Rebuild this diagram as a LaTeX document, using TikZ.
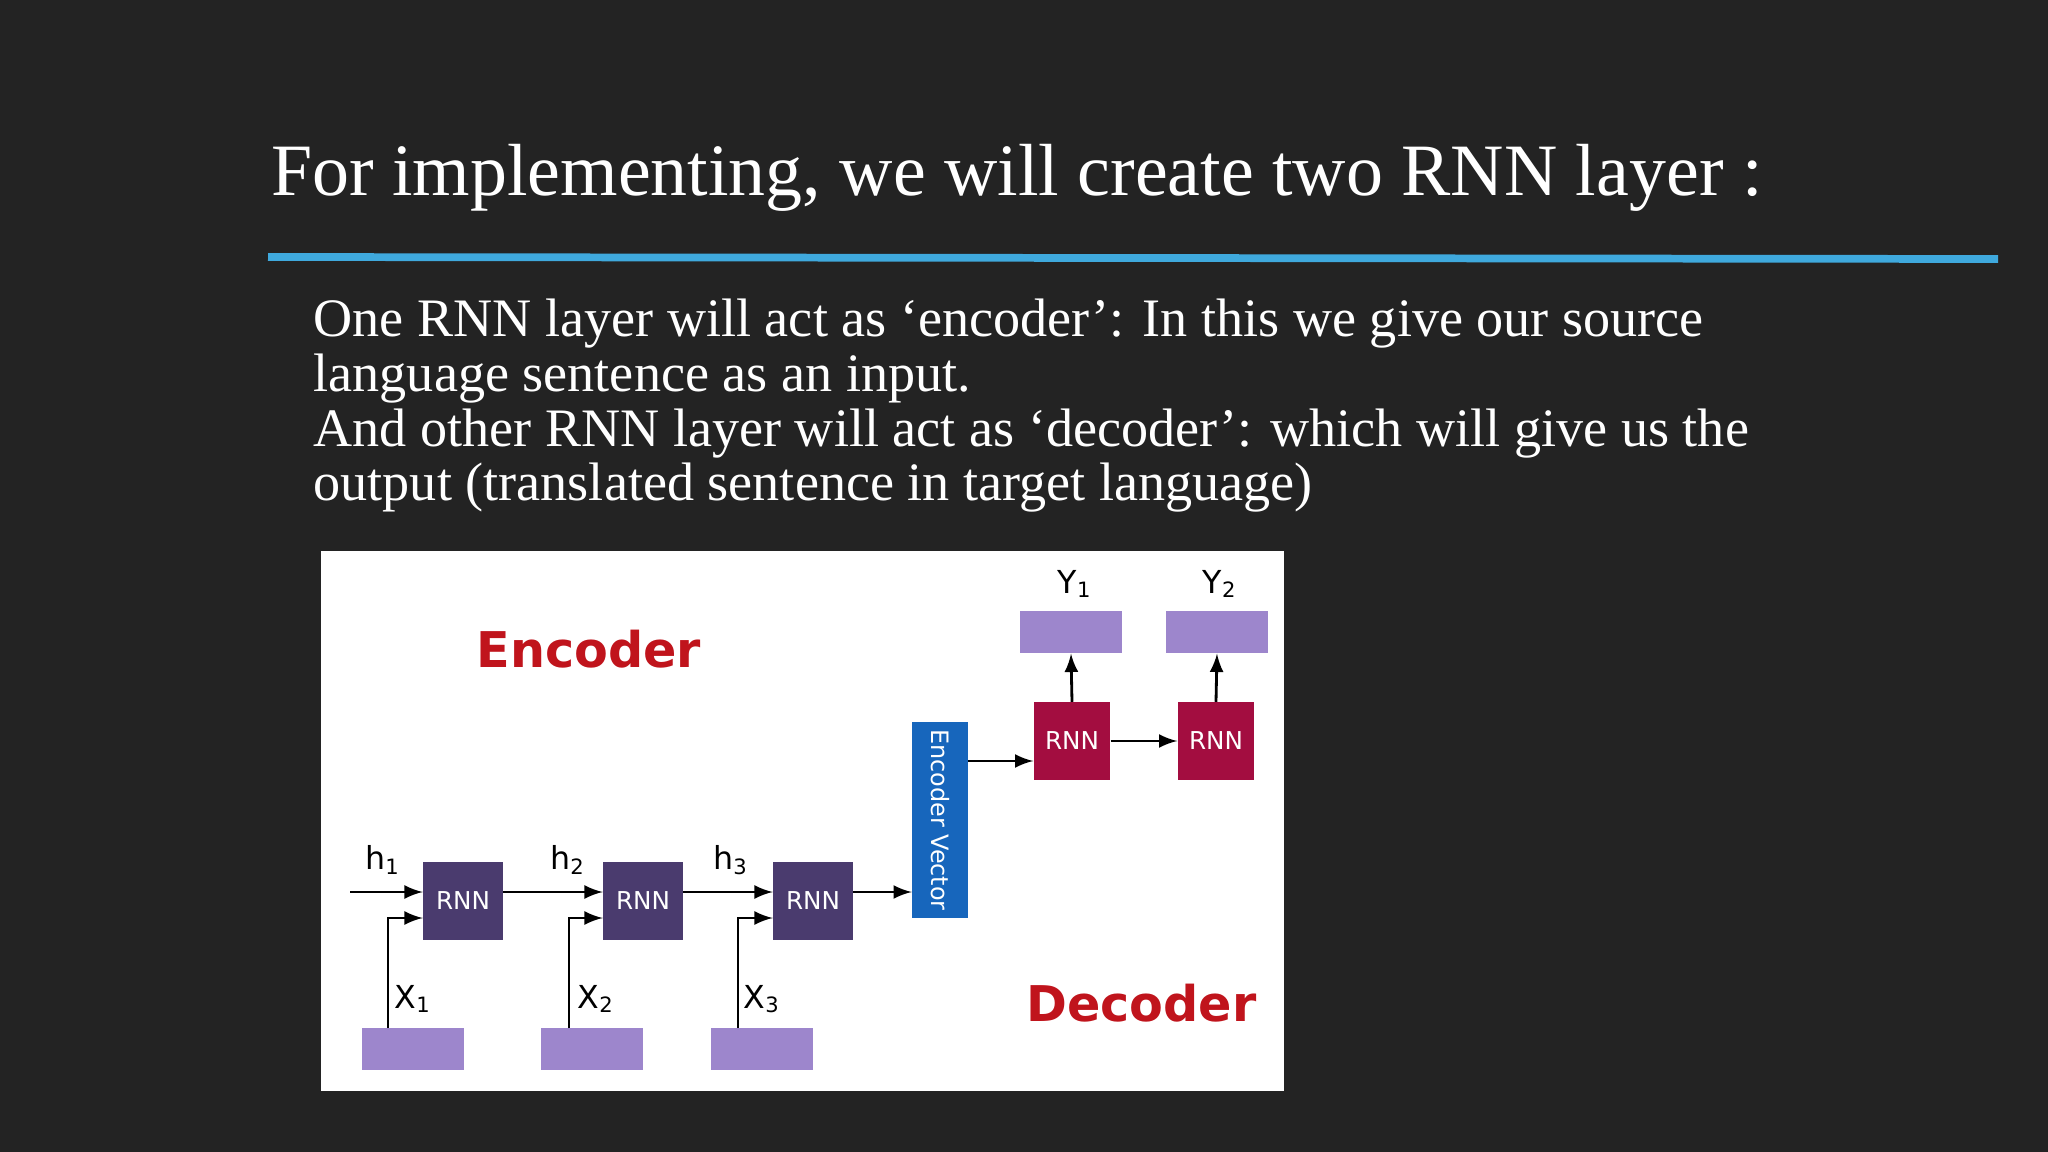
\documentclass[tikz,border=0pt]{standalone}
\usepackage{fontspec}
\setmainfont{Liberation Serif}
\newfontfamily\dejavu{DejaVu Sans}
\definecolor{board}{HTML}{232323}
\definecolor{chalkblue}{HTML}{3FA9DD}
\definecolor{encpurple}{HTML}{4A3B6E}
\definecolor{inpurple}{HTML}{9D86CC}
\definecolor{decred}{HTML}{A30D40}
\definecolor{vecblue}{HTML}{1766BC}
\definecolor{labred}{HTML}{C0141C}

\begin{document}
\begin{tikzpicture}[
    x=0.01cm, y=-0.01cm,
    linet/.style={thick, draw=black, -latex},
    enc/.style={rectangle, fill=encpurple, text=white, inner sep=0pt,
      minimum width=0.79cm, minimum height=0.78cm, font=\dejavu\fontsize{7}{8}\selectfont},
    dec/.style={enc, fill=decred, minimum width=0.76cm, minimum height=0.77cm},
    inp/.style={rectangle, fill=inpurple, inner sep=0pt,
      minimum width=1.01cm, minimum height=0.42cm},
    lab/.style={font=\dejavu\fontsize{9}{10}\selectfont, text=black},
    big/.style={font=\dejavu\bfseries\fontsize{14}{16}\selectfont, text=labred}
  ]
  \useasboundingbox (0,0) rectangle (2048,1152);
  \fill[board] (0,0) rectangle (2048,1152);

  % title and text
  \node[anchor=base west, text=white, font=\fontsize{21}{25}\selectfont] (title)
    at (259,196) {For implementing, we will create two RNN layer :};
  \draw[chalkblue, line width=2.2pt] (268,257) -- (1998,259);
  \node[anchor=base west, text=white, align=left, inner sep=0pt,
    font=\fontsize{15.4}{15.6}\selectfont] (body) at (313,501) {%
    One RNN layer will act as ‘encoder’: In this we give our source\\
    language sentence as an input.\\
    And other RNN layer will act as ‘decoder’: which will give us the\\
    output (translated sentence in target language)};

  % diagram
  \fill[white] (321,551) rectangle (1284,1091);
  \node[big, anchor=west] (enclab) at (464,649) {Encoder};
  \node[big, anchor=west] (declab) at (1014,1003) {Decoder};

  \node[enc] (r1) at (463,901) {RNN};
  \node[enc] (r2) at (643,901) {RNN};
  \node[enc] (r3) at (813,901) {RNN};
  \node[inp] (x1) at (413,1049) {};
  \node[inp] (x2) at (592,1049) {};
  \node[inp] (x3) at (762,1049) {};
  \node[rectangle, fill=vecblue, minimum width=0.55cm, minimum height=1.96cm,
    inner sep=0pt] (ev) at (940,820) {};
  \node[rotate=-90, text=white, font=\dejavu\fontsize{6.8}{8}\selectfont] at (ev) {Encoder Vector};

  \node[dec] (d1) at (1072,741) {RNN};
  \node[dec] (d2) at (1216,741) {RNN};
  \node[inp] (y1) at (1071,632) {};
  \node[inp] (y2) at (1217,632) {};

  \coordinate (h0) at (350,892);
  \draw[linet] (h0) -- (r1.west |- h0);
  \draw[linet] (r1.east |- h0) -- (r2.west |- h0);
  \draw[linet] (r2.east |- h0) -- (r3.west |- h0);
  \draw[linet] (r3.east |- h0) -- (ev.west |- h0);
  \foreach \i/\xx in {1/388,2/569,3/738}{
    \draw[linet] (\xx,1028) |- (r\i.west |- 0,918);
  }
  \draw[linet] (ev.east |- 0,761) -- (d1.west |- 0,761);
  \draw[linet] (d1) -- (d2);
  \draw[linet] (d1.north) -- (y1.south);
  \draw[linet] (d2.north) -- (y2.south);

  \node[lab] (h1) at (383,860) {h\textsubscript{1}};
  \node[lab] (h2) at (568,860) {h\textsubscript{2}};
  \node[lab] (h3) at (731,860) {h\textsubscript{3}};
  \node[lab] (xl1) at (413,999) {X\textsubscript{1}};
  \node[lab] (xl2) at (596,999) {X\textsubscript{2}};
  \node[lab] (xl3) at (762,999) {X\textsubscript{3}};
  \node[lab] (yl1) at (1075,584) {Y\textsubscript{1}};
  \node[lab] (yl2) at (1220,584) {Y\textsubscript{2}};
\end{tikzpicture}
\end{document}
